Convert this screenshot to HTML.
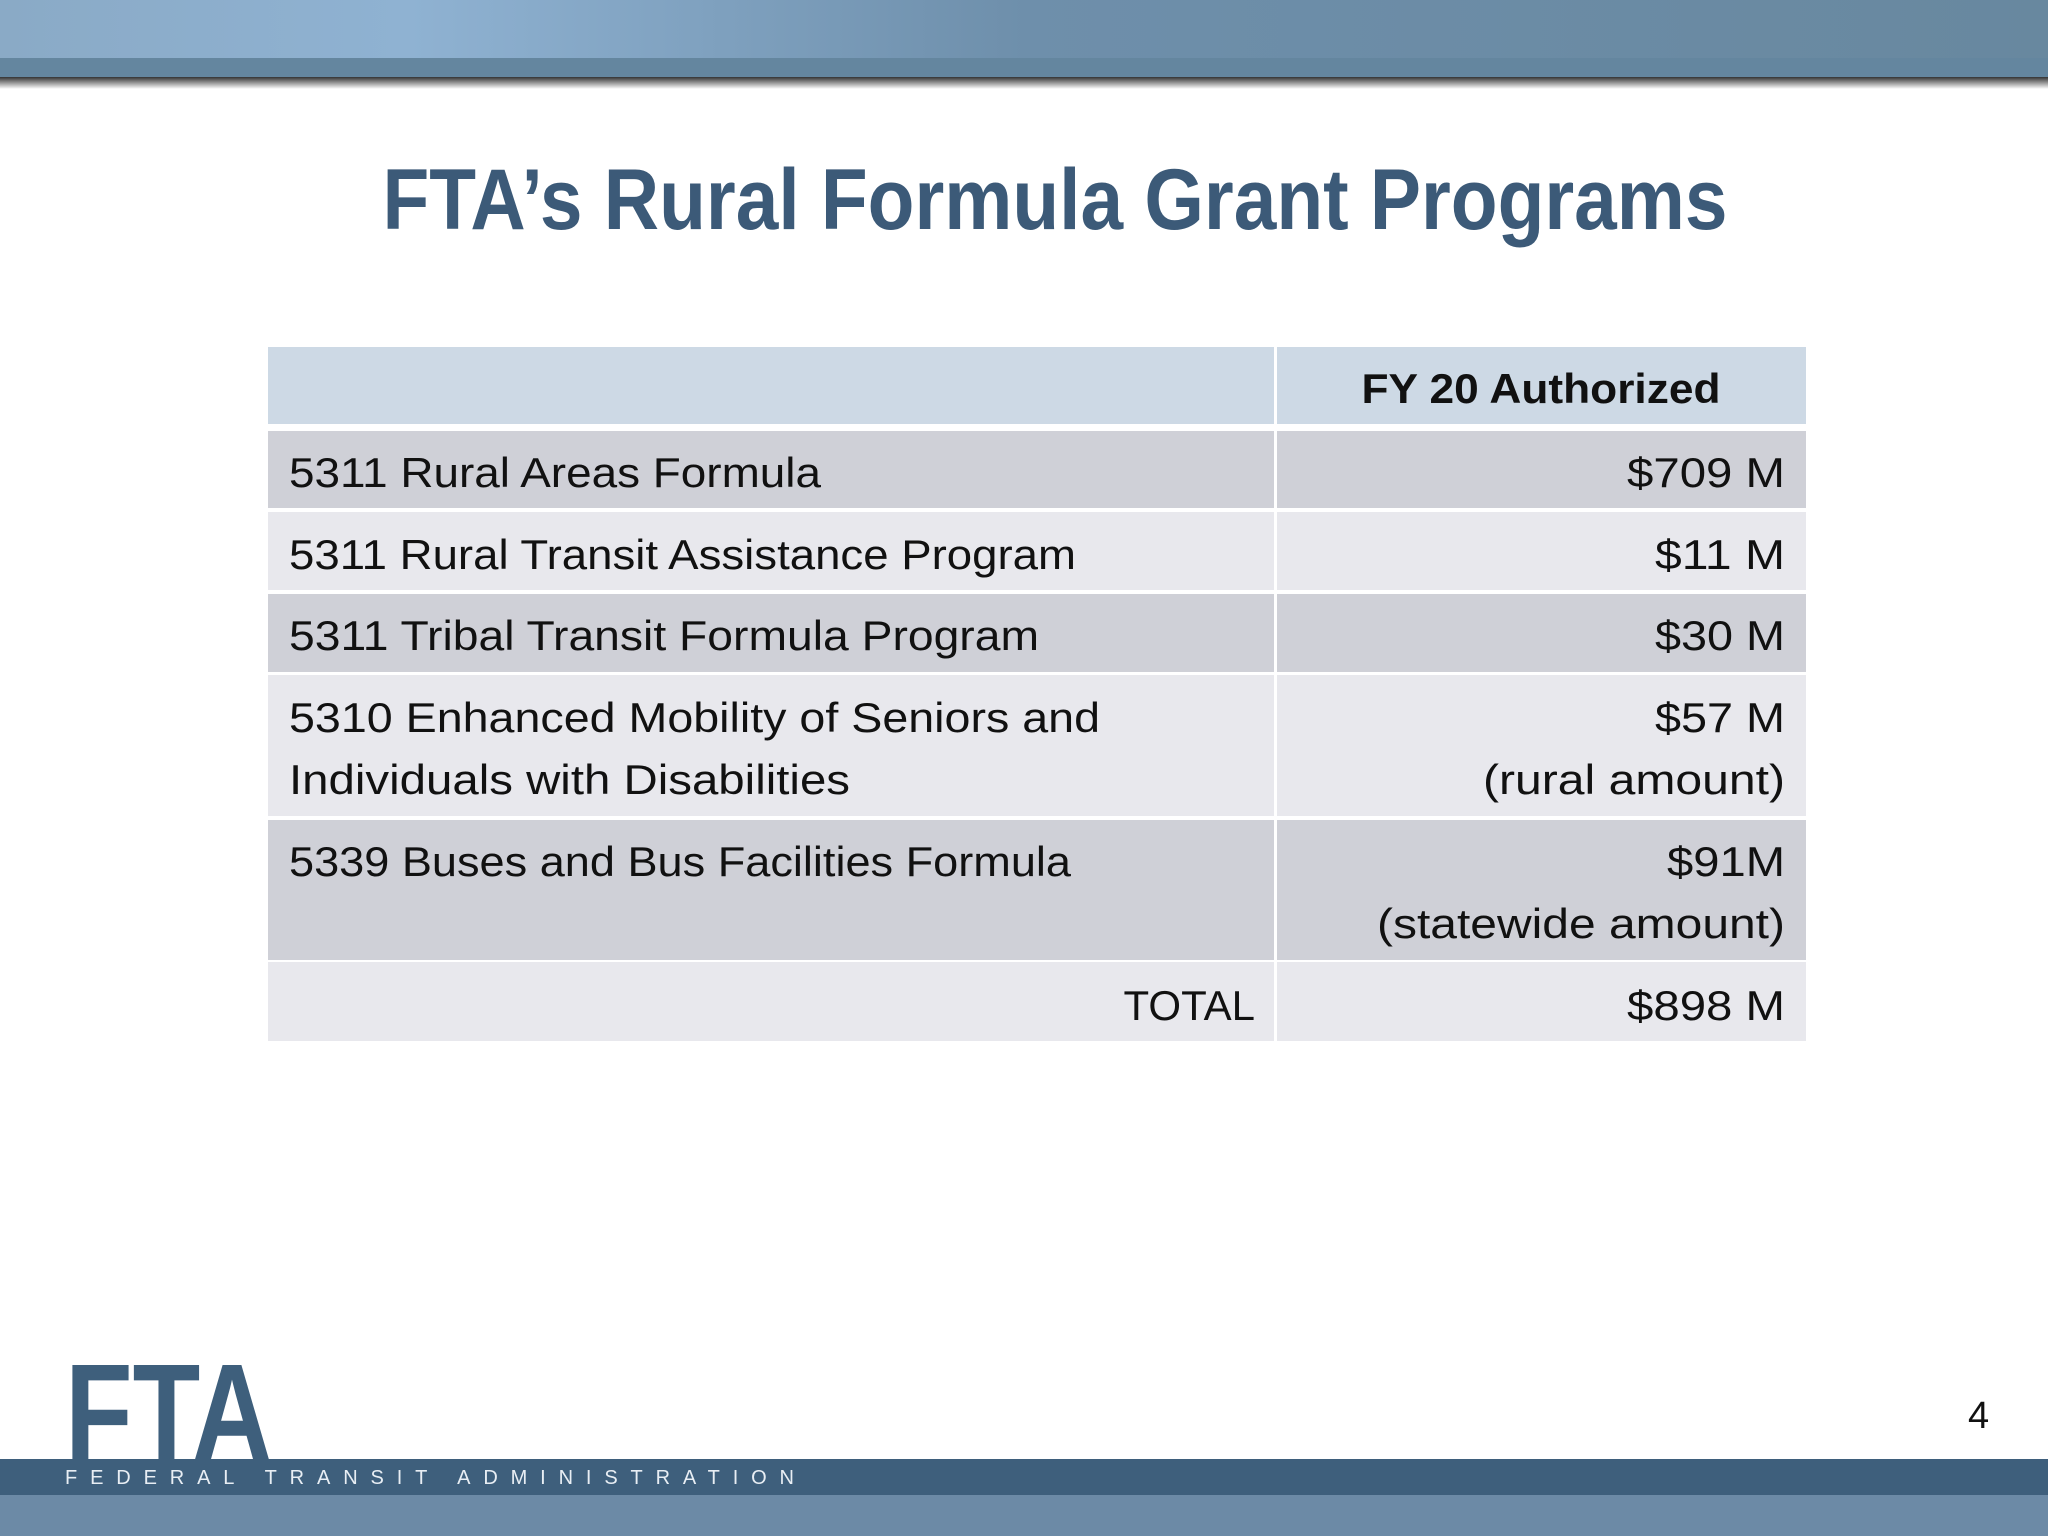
<!DOCTYPE html>
<html><head><meta charset="utf-8"><style>body{margin:0}svg{display:block}</style></head>
<body>
<svg width="2048" height="1536" viewBox="0 0 2048 1536" xmlns="http://www.w3.org/2000/svg" font-family="'Liberation Sans', sans-serif">
<defs>
<linearGradient id="tg" x1="0" x2="1" y1="0" y2="0">
<stop offset="0" stop-color="#8aaac6"/><stop offset="0.2" stop-color="#8fb2d2"/><stop offset="0.5" stop-color="#6e8fab"/><stop offset="1" stop-color="#68889f"/>
</linearGradient>
<linearGradient id="sh" x1="0" x2="0" y1="0" y2="1">
<stop offset="0" stop-color="#333"/><stop offset="1" stop-color="#fff"/>
</linearGradient>
</defs>
<rect width="2048" height="1536" fill="#fff"/>
<g>
<rect x="0" y="0" width="2048" height="58" fill="url(#tg)"/>
<rect x="0" y="58" width="2048" height="19" fill="#64869f"/>
<rect x="0" y="77" width="2048" height="12" fill="url(#sh)"/>
</g>
<text x="1055" y="229" text-anchor="middle" font-size="86" font-weight="bold" fill="#3c5a78" textLength="1345" lengthAdjust="spacingAndGlyphs">FTA’s Rural Formula Grant Programs</text>
<g>
<rect x="268" y="347" width="1006" height="77" fill="#cdd9e5"/><rect x="1277" y="347" width="529" height="77" fill="#cdd9e5"/>
<rect x="268" y="431" width="1006" height="77" fill="#cfd0d7"/><rect x="1277" y="431" width="529" height="77" fill="#cfd0d7"/>
<rect x="268" y="512" width="1006" height="78" fill="#e8e8ed"/><rect x="1277" y="512" width="529" height="78" fill="#e8e8ed"/>
<rect x="268" y="594" width="1006" height="78" fill="#cfd0d7"/><rect x="1277" y="594" width="529" height="78" fill="#cfd0d7"/>
<rect x="268" y="675" width="1006" height="141" fill="#e8e8ed"/><rect x="1277" y="675" width="529" height="141" fill="#e8e8ed"/>
<rect x="268" y="820" width="1006" height="140" fill="#cfd0d7"/><rect x="1277" y="820" width="529" height="140" fill="#cfd0d7"/>
<rect x="268" y="962" width="1006" height="79" fill="#e8e8ed"/><rect x="1277" y="962" width="529" height="79" fill="#e8e8ed"/>
<g font-size="42" fill="#111">
<text x="1541" y="403" text-anchor="middle" font-weight="bold" textLength="359" lengthAdjust="spacingAndGlyphs">FY 20 Authorized</text>
<text x="289" y="487" textLength="532" lengthAdjust="spacingAndGlyphs">5311 Rural Areas Formula</text>
<text x="1785" y="487" text-anchor="end" textLength="158" lengthAdjust="spacingAndGlyphs">$709 M</text>
<text x="289" y="569" textLength="787" lengthAdjust="spacingAndGlyphs">5311 Rural Transit Assistance Program</text>
<text x="1785" y="569" text-anchor="end" textLength="130" lengthAdjust="spacingAndGlyphs">$11 M</text>
<text x="289" y="650" textLength="750" lengthAdjust="spacingAndGlyphs">5311 Tribal Transit Formula Program</text>
<text x="1785" y="650" text-anchor="end" textLength="130" lengthAdjust="spacingAndGlyphs">$30 M</text>
<text x="289" y="732" textLength="811" lengthAdjust="spacingAndGlyphs">5310 Enhanced Mobility of Seniors and</text>
<text x="289" y="794" textLength="561" lengthAdjust="spacingAndGlyphs">Individuals with Disabilities</text>
<text x="1785" y="732" text-anchor="end" textLength="130" lengthAdjust="spacingAndGlyphs">$57 M</text>
<text x="1785" y="794" text-anchor="end" textLength="302" lengthAdjust="spacingAndGlyphs">(rural amount)</text>
<text x="289" y="876" textLength="782" lengthAdjust="spacingAndGlyphs">5339 Buses and Bus Facilities Formula</text>
<text x="1785" y="876" text-anchor="end" textLength="118" lengthAdjust="spacingAndGlyphs">$91M</text>
<text x="1785" y="938" text-anchor="end" textLength="408" lengthAdjust="spacingAndGlyphs">(statewide amount)</text>
<text x="1255" y="1020" text-anchor="end">TOTAL</text>
<text x="1785" y="1020" text-anchor="end" textLength="158" lengthAdjust="spacingAndGlyphs">$898 M</text>
</g>
</g>
<text x="1968" y="1428" font-size="38" fill="#111">4</text>
<g>
<rect x="0" y="1459" width="2048" height="36" fill="#3e5f7c"/>
<rect x="0" y="1495" width="2048" height="41" fill="#6c8aa6"/>
</g>
<g>
<text x="65" y="1460" font-size="138" font-weight="bold" fill="#3e5f7c" textLength="207" lengthAdjust="spacingAndGlyphs">FTA</text>
<text x="65" y="1484" font-size="20" fill="#e8eef4" textLength="729" lengthAdjust="spacing">FEDERAL TRANSIT ADMINISTRATION</text>
</g>
</svg>
</body></html>
